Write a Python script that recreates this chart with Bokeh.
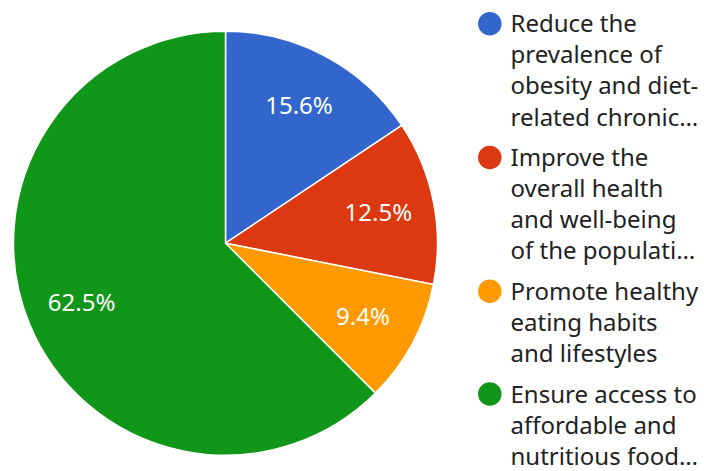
import math
from bokeh.plotting import figure
from bokeh.models import Range1d, ColumnDataSource
from bokeh.core.properties import value
from bokeh.embed import file_html
from bokeh.resources import INLINE

# ---- data ----
categories = [
    "Reduce the prevalence of obesity and diet-related chronic diseases",
    "Improve the overall health and well-being of the population",
    "Promote healthy eating habits and lifestyles",
    "Ensure access to affordable and nutritious food",
]
legend_lines = [
    ["Reduce the", "prevalence of", "obesity and diet-", "related chronic\u2026"],
    ["Improve the", "overall health", "and well-being", "of the populati\u2026"],
    ["Promote healthy", "eating habits", "and lifestyles"],
    ["Ensure access to", "affordable and", "nutritious food\u2026"],
]
counts = [5, 4, 3, 20]
colors = ["#3366cc", "#dc3912", "#ff9900", "#109618"]

# ---- layout ----
W, H = 704, 471
FONT = "Noto Sans"
FSIZE = "24px"
TEXT_SHIFT = 9.0  # empirical baseline correction (px)

p = figure(width=W, height=H, x_range=Range1d(0, W), y_range=Range1d(0, H),
           output_backend="svg", toolbar_location=None, min_border=0)
p.xaxis.visible = False
p.yaxis.visible = False
p.grid.visible = False
p.outline_line_color = None
p.background_fill_color = "white"
p.border_fill_color = "white"

cx, cy, r = 225, H - 242.7, 212
total = sum(counts)
starts, ends, lx, ly, labels = [], [], [], [], []
cum = 0.0
for c in counts:
    f = c / total
    a0 = math.pi / 2 - 2 * math.pi * cum
    a1 = math.pi / 2 - 2 * math.pi * (cum + f)
    mid = math.pi / 2 - 2 * math.pi * (cum + f / 2)
    starts.append(a0)
    ends.append(a1)
    lx.append(cx + 0.735 * r * math.cos(mid))
    ly.append(cy + 0.735 * r * math.sin(mid) + 1.5)
    labels.append(f"{100 * f:.1f}%")
    cum += f

src = ColumnDataSource(dict(start=starts, end=ends, color=colors, cat=categories))
p.wedge(x=cx, y=cy, radius=r, start_angle="start", end_angle="end",
        direction="clock", fill_color="color", line_color="white",
        line_width=1.5, source=src)

p.text(x=lx, y=ly, text=labels, text_align="center", text_baseline="middle",
       text_color="white", text_font=value(FONT), text_font_size=FSIZE)

# legend
tx, mx = 510, 489.3
line_step, item_step = 31.1, 40.5
base = 31.2
lxs, lys, ltxt, mxs, mys = [], [], [], [], []
for i, lines in enumerate(legend_lines):
    mxs.append(mx)
    mys.append(H - (base - 8.0))
    for j, t in enumerate(lines):
        lxs.append(tx)
        lys.append(H - (base - TEXT_SHIFT))
        ltxt.append(t)
        if j < len(lines) - 1:
            base += line_step
    base += item_step

p.scatter(x=mxs, y=mys, marker="circle", size=23.5, fill_color=colors,
          line_color=None)
p.text(x=lxs, y=lys, text=ltxt, text_align="left", text_baseline="alphabetic",
       text_color="#222222", text_font=value(FONT), text_font_size=FSIZE)

open("out.html", "w").write(file_html(p, INLINE))
